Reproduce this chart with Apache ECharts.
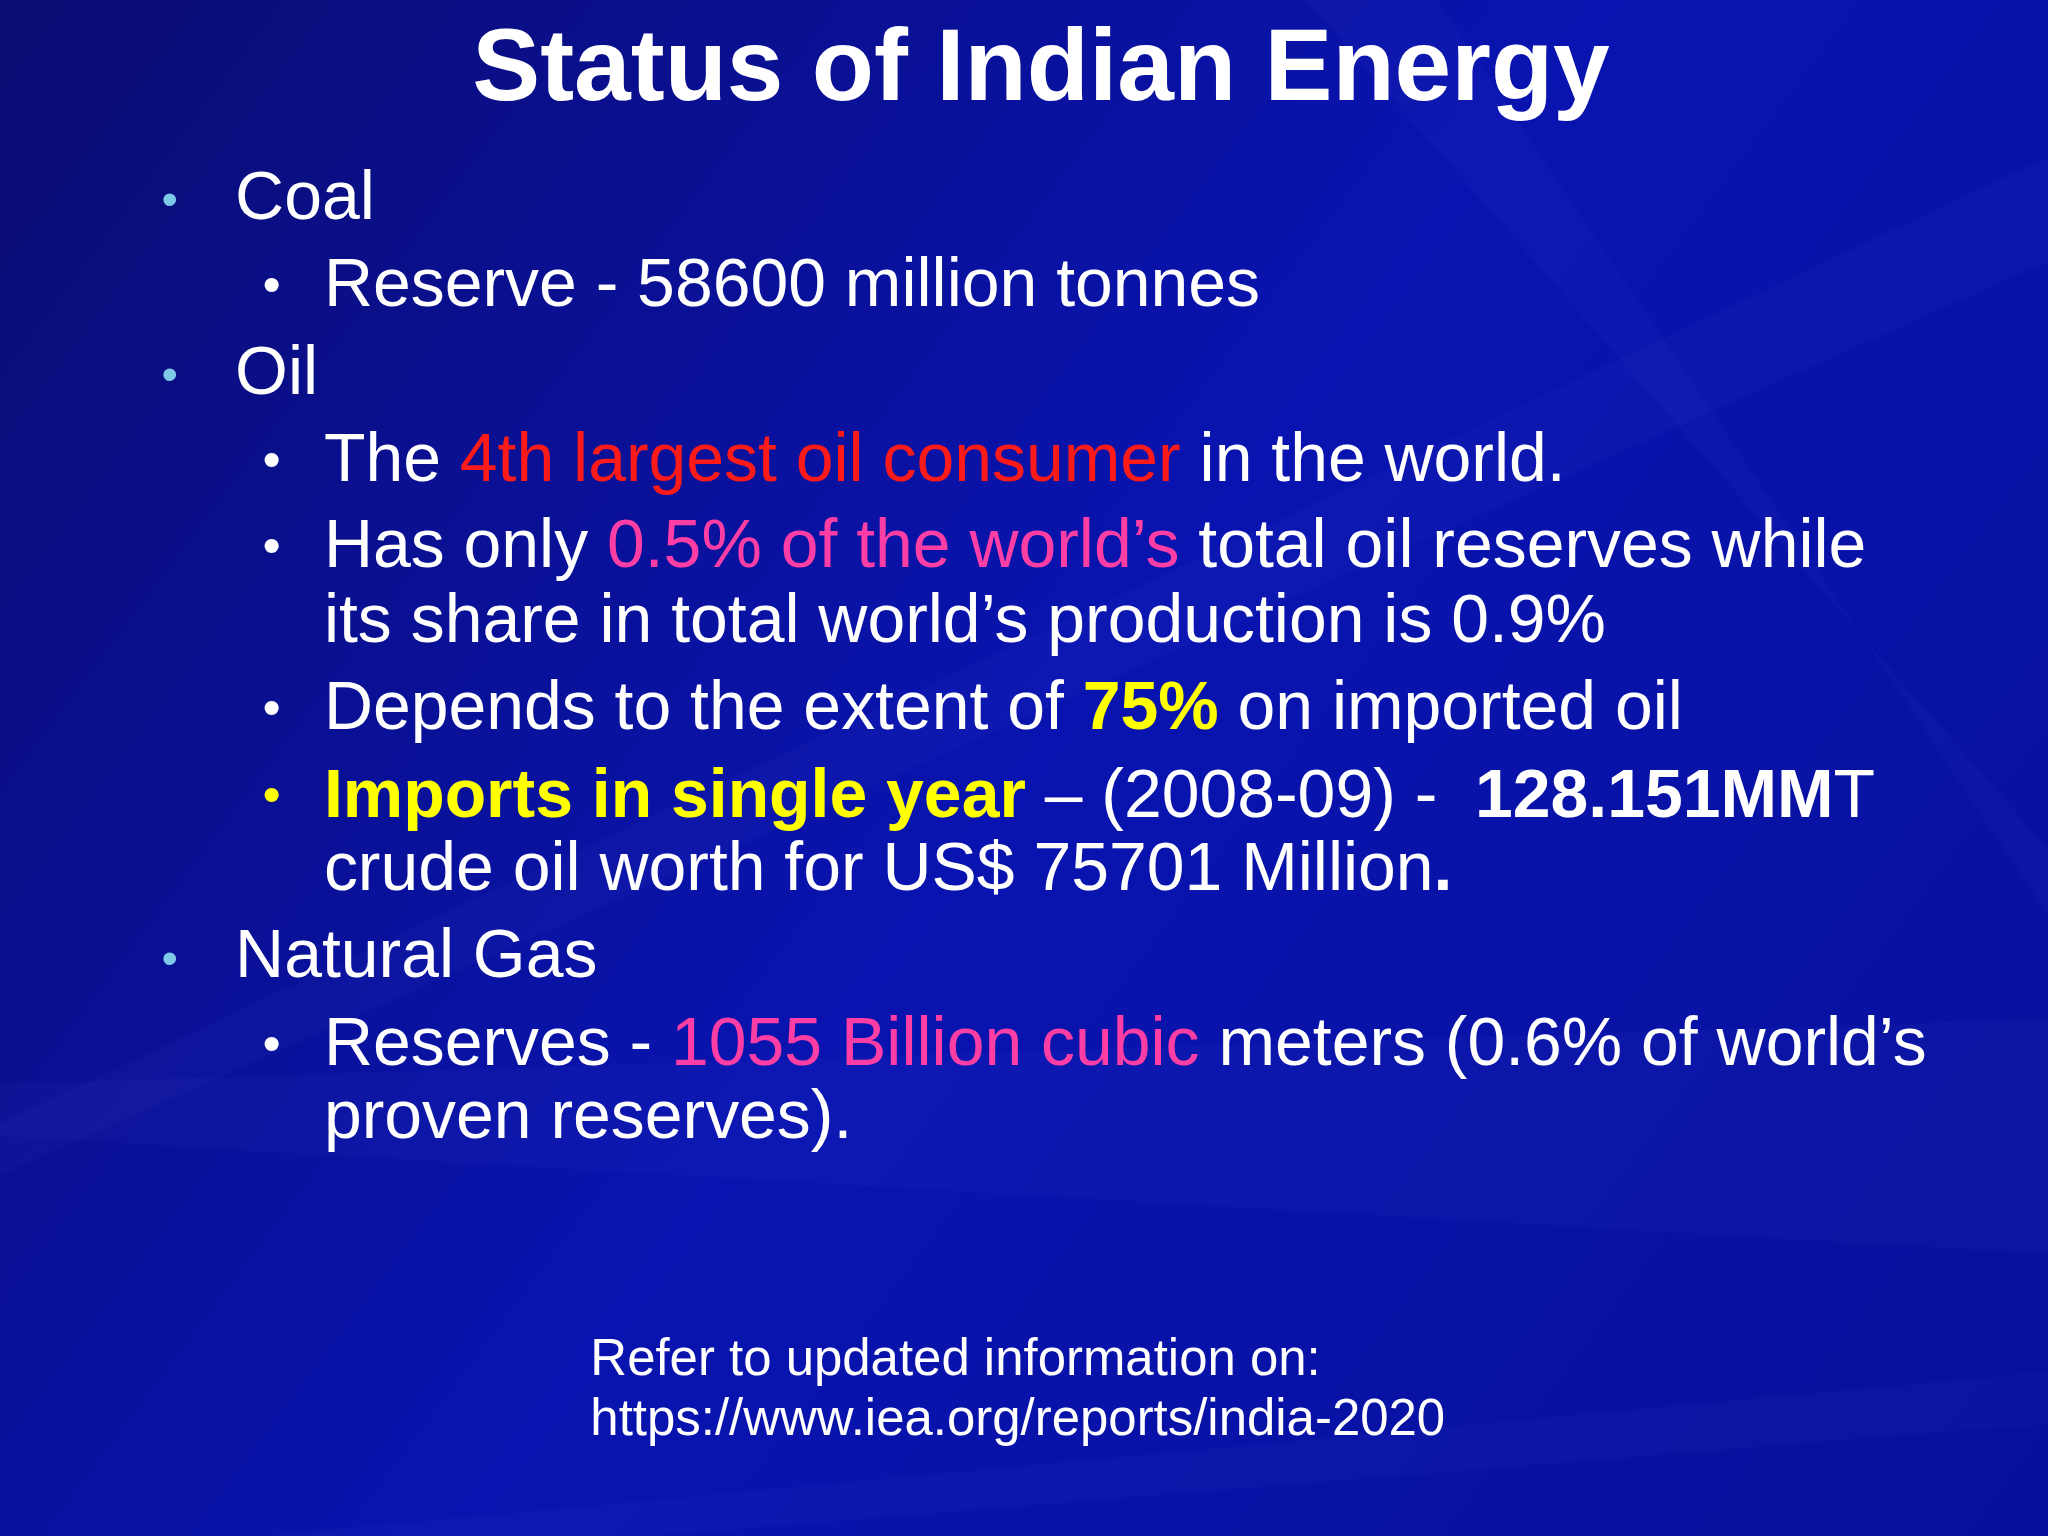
<!DOCTYPE html>
<html>
<head>
<meta charset="UTF-8">
<title>Status of Indian Energy</title>
<script src="https://cdn.jsdelivr.net/npm/echarts@6/dist/echarts.min.js"></script>
<style>html,body{margin:0;padding:0;background:#0a0a8c;}#chart{width:2048px;height:1536px;}</style>
</head>
<body>
<div id="chart"></div>
<script>
// slide text: [level, segments], segment = [text, style]
const titleText = 'Status of Indian Energy';
const lines = [
  [1, [['Coal', 'w']]],
  [2, [['Reserve - 58600 million tonnes', 'w']]],
  [1, [['Oil', 'w']]],
  [2, [['The ', 'w'], ['4th largest oil consumer', 'r'], [' in the world.', 'w']]],
  [2, [['Has only ', 'w'], ['0.5% of the world\u2019s', 'p'], [' total oil reserves while', 'w']]],
  [0, [['its share in total world\u2019s production is 0.9%', 'w']]],
  [2, [['Depends to the extent of ', 'w'], ['75%', 'yb'], [' on imported oil', 'w']]],
  [3, [['Imports in single year', 'yb'], [' \u2013 (2008-09) -  ', 'w'], ['128.151MM', 'wb'], ['T', 'w']]],
  [0, [['crude oil worth for US$ 75701 Million', 'w'], ['.', 'wb']]],
  [1, [['Natural Gas', 'w']]],
  [2, [['Reserves - ', 'w'], ['1055 Billion cubic', 'p'], [' meters (0.6% of world\u2019s', 'w']]],
  [0, [['proven reserves).', 'w']]]
];
const lineY = [153, 220, 287, 354, 420, 477, 544, 611, 667, 734, 801, 857];
const footer = ['Refer to updated information on:', 'https://www.iea.org/reports/india-2020'];
const footerY = [1042, 1088];

const S = 2048 / 1568;
const FONT = '"Liberation Sans", Arial, sans-serif';
const fs = 52 * S;
const rich = {
  w: {fill: '#ffffff', fontSize: fs, fontFamily: FONT},
  wb: {fill: '#ffffff', fontSize: fs, fontFamily: FONT, fontWeight: 'bold'},
  r: {fill: '#ff1a1a', fontSize: fs, fontFamily: FONT},
  p: {fill: '#ff3ea5', fontSize: fs, fontFamily: FONT},
  yb: {fill: '#ffff00', fontSize: fs, fontFamily: FONT, fontWeight: 'bold'}
};

const graphic = [];
// faint streaks in background
const streaks = [[[1568, 120], [0, 860], [0, 900], [1568, 200]], [[1568, 780], [0, 830], [0, 870], [1568, 960]], [[1000, 0], [1568, 650], [1568, 700], [1100, 0]], [[1568, 1050], [200, 1176], [500, 1176], [1568, 1090]]];
streaks.forEach(p => graphic.push({type: 'polygon', shape: {points: p.map(q => [q[0] * S, q[1] * S])}, style: {fill: 'rgba(120,140,255,0.04)'}, silent: true}));

graphic.push({type: 'text', x: 797 * S, y: 55 * S, style: {text: titleText, fill: '#fff', font: 'bold ' + (78 * S) + 'px ' + FONT, align: 'center', verticalAlign: 'middle'}});

lines.forEach((ln, i) => {
  const lvl = ln[0], y = lineY[i] * S;
  const textX = (lvl === 1 ? 180 : 248) * S;
  if (lvl === 1) graphic.push({type: 'text', x: 130 * S, y: y + 2 * S, style: {text: '\u2022', fill: '#7ec8e8', font: (36 * S) + 'px ' + FONT, align: 'center', verticalAlign: 'middle'}});
  if (lvl >= 2) graphic.push({type: 'text', x: 208 * S, y: y, style: {text: '\u2022', fill: lvl === 3 ? '#ffff00' : '#fff', font: (40 * S) + 'px ' + FONT, align: 'center', verticalAlign: 'middle'}});
  graphic.push({type: 'text', x: textX, y: y, style: {
    text: ln[1].map(s => '{' + s[1] + '|' + s[0] + '}').join(''),
    rich: rich, align: 'left', verticalAlign: 'middle'}});
});
footer.forEach((t, i) => graphic.push({type: 'text', x: 452 * S, y: footerY[i] * S, style: {text: t, fill: '#fff', font: (39 * S) + 'px ' + FONT, align: 'left', verticalAlign: 'middle'}}));

const chart = echarts.init(document.getElementById('chart'));
chart.setOption({
  backgroundColor: {type: 'linear', x: 0, y: 0, x2: 1, y2: 1, colorStops: [
    {offset: 0, color: '#0a0c72'}, {offset: 0.5, color: '#0914b0'}, {offset: 1, color: '#07109a'}]},
  graphic: graphic
});
</script>
</body>
</html>
